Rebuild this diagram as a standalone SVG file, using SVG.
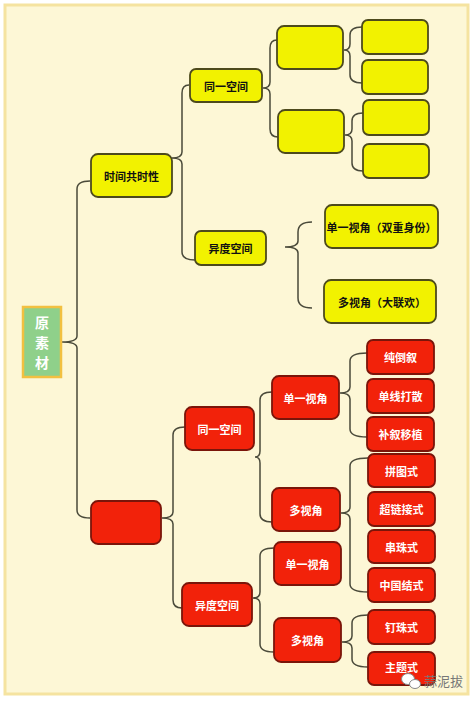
<svg xmlns="http://www.w3.org/2000/svg" width="474" height="701" viewBox="0 0 474 701">
<style>
.y{fill:#f2f200;stroke:#4d4a1c;stroke-width:1.8}
.r{fill:#f2220a;stroke:#7a150a;stroke-width:1.8}
.ty{font-family:"Noto Sans CJK SC","Noto Sans",sans-serif;font-weight:bold;font-size:11px;fill:#111;text-anchor:middle;dominant-baseline:central}
.tr{font-family:"Noto Sans CJK SC","Noto Sans",sans-serif;font-weight:bold;font-size:11px;fill:#fff;text-anchor:middle;dominant-baseline:central}
.b{fill:none;stroke:#4a4a3a;stroke-width:1.5}
</style>
<rect x="5" y="5" width="463" height="689" fill="#fdf7d6" stroke="#f5e3a0" stroke-width="3"/>
<g id="connectors">
<path class="b" d="M90 181 Q77 181 77 189 L77 336 Q77 342 62 342 Q77 342 77 348 L77 510 Q77 518 90 518"/>
<path class="b" d="M189 85 Q182 85 182 93 L182 152 Q182 158 172 158 Q182 158 182 164 L182 252 Q182 260 195 260"/>
<path class="b" d="M277 40 Q270 40 270 48 L270 82 Q270 88 263 88 Q270 88 270 94 L270 129 Q270 137 278 137"/>
<path class="b" d="M362 27 Q350 27 350 35 L350 44 Q350 50 344 50 Q350 50 350 56 L350 75 Q350 83 362 83"/>
<path class="b" d="M363 113 Q352 113 352 121 L352 129 Q352 135 345 135 Q352 135 352 141 L352 163 Q352 171 363 171"/>
<path class="b" d="M312 222 Q298 222 298 232 L298 241 Q298 247 285 247 Q298 247 298 253 L298 298 Q298 308 312 308"/>
<path class="b" d="M185 427 Q173 427 173 435 L173 512 Q173 518 162 518 Q173 518 173 524 L173 600 Q173 608 182 608"/>
<path class="b" d="M272 392 Q260 392 260 400 L260 451 Q260 457 255 457 Q260 457 260 463 L260 514 Q260 522 272 522"/>
<path class="b" d="M367 353 Q350 353 350 361 L350 387 Q350 393 340 393 Q350 393 350 399 L350 429 Q350 437 367 437"/>
<path class="b" d="M368 458 Q350 458 350 466 L350 507 Q350 513 341 513 Q350 513 350 519 L350 584 Q350 592 368 592"/>
<path class="b" d="M274 548 Q260 548 260 556 L260 592 Q260 598 253 598 Q260 598 260 604 L260 644 Q260 652 274 652"/>
<path class="b" d="M368 615 Q352 615 352 623 L352 636 Q352 642 342 642 Q352 642 352 648 L352 659 Q352 667 368 667"/>
</g>
<g id="root"><rect x="23" y="307" width="38" height="70" fill="#8fd08a" stroke="#f2c040" stroke-width="2.5"/>
<text font-family="'Noto Sans CJK SC','Noto Sans',sans-serif" font-weight="bold" font-size="14" fill="#fff" text-anchor="middle"><tspan x="42" y="328">原</tspan><tspan x="42" y="348">素</tspan><tspan x="42" y="368">材</tspan></text></g>
<g id="n-sjgsx"><rect class="y" x="91" y="154" width="81" height="43" rx="7"/><text class="ty" x="131.5" y="175.5">时间共时性</text></g>
<g id="n-tykj1"><rect class="y" x="190" y="69" width="72" height="33" rx="6"/><text class="ty" x="226" y="85.5">同一空间</text></g>
<g id="n-ydkj1"><rect class="y" x="195" y="231" width="71" height="34" rx="6"/><text class="ty" x="230.5" y="248">异度空间</text></g>
<g id="n-y1"><rect class="y" x="277" y="26" width="66" height="43" rx="7"/></g>
<g id="n-y2"><rect class="y" x="278" y="110" width="66" height="43" rx="7"/></g>
<g id="n-y3"><rect class="y" x="362" y="20" width="66" height="34" rx="6"/></g>
<g id="n-y4"><rect class="y" x="362" y="60" width="66" height="34" rx="6"/></g>
<g id="n-y5"><rect class="y" x="363" y="100" width="66" height="35" rx="6"/></g>
<g id="n-y6"><rect class="y" x="363" y="144" width="66" height="34" rx="6"/></g>
<g id="n-dysj"><rect class="y" x="325" y="205" width="113" height="43" rx="7"/><text class="ty" x="381.5" y="226.5" font-size="10">单一视角（双重身份）</text></g>
<g id="n-dsj"><rect class="y" x="324" y="280" width="112" height="43" rx="7"/><text class="ty" x="382" y="301.5" font-size="10.5">多视角（大联欢）</text></g>
<g id="n-red"><rect class="r" x="91" y="501" width="70" height="43" rx="7"/></g>
<g id="n-tykj2"><rect class="r" x="185" y="407" width="69" height="43" rx="7"/><text class="tr" x="219.5" y="428.5">同一空间</text></g>
<g id="n-ydkj2"><rect class="r" x="182" y="583" width="70" height="43" rx="7"/><text class="tr" x="217" y="604.5">异度空间</text></g>
<g id="n-dysj2"><rect class="r" x="272" y="376" width="67" height="43" rx="7"/><text class="tr" x="305.5" y="397.5">单一视角</text></g>
<g id="n-dsj2"><rect class="r" x="272" y="488" width="68" height="43" rx="7"/><text class="tr" x="306" y="509.5">多视角</text></g>
<g id="n-dysj3"><rect class="r" x="274" y="542" width="67" height="43" rx="7"/><text class="tr" x="307.5" y="563.5">单一视角</text></g>
<g id="n-dsj3"><rect class="r" x="274" y="618" width="67" height="44" rx="7"/><text class="tr" x="307.5" y="640">多视角</text></g>
<g id="n-cdx"><rect class="r" x="367" y="340" width="67" height="34" rx="6"/><text class="tr" x="400.5" y="357">纯倒叙</text></g>
<g id="n-dxds"><rect class="r" x="367" y="379" width="67" height="34" rx="6"/><text class="tr" x="400.5" y="396">单线打散</text></g>
<g id="n-bxyz"><rect class="r" x="367" y="417" width="67" height="34" rx="6"/><text class="tr" x="400.5" y="434">补叙移植</text></g>
<g id="n-ptsh"><rect class="r" x="368" y="454" width="67" height="33" rx="6"/><text class="tr" x="401.5" y="470.5">拼图式</text></g>
<g id="n-cljs"><rect class="r" x="368" y="492" width="67" height="34" rx="6"/><text class="tr" x="401.5" y="509">超链接式</text></g>
<g id="n-czs"><rect class="r" x="368" y="530" width="67" height="33" rx="6"/><text class="tr" x="401.5" y="546.5">串珠式</text></g>
<g id="n-zgjs"><rect class="r" x="368" y="568" width="67" height="34" rx="6"/><text class="tr" x="401.5" y="585">中国结式</text></g>
<g id="n-dzs"><rect class="r" x="368" y="610" width="67" height="34" rx="6"/><text class="tr" x="401.5" y="627">钉珠式</text></g>
<g id="n-zts"><rect class="r" x="368" y="652" width="67" height="33" rx="6"/><text class="tr" x="401.5" y="667">主题式</text></g>
<g id="watermark">
<ellipse cx="408" cy="679" rx="6.5" ry="5.5" fill="#fff" stroke="#888" stroke-width="1"/>
<ellipse cx="415" cy="684" rx="5.5" ry="4.5" fill="#fff" stroke="#888" stroke-width="1"/>
<text x="424" y="686" font-family="'Noto Sans CJK SC',sans-serif" font-size="13" fill="#777">蒜泥拔</text>
</g>
</svg>
